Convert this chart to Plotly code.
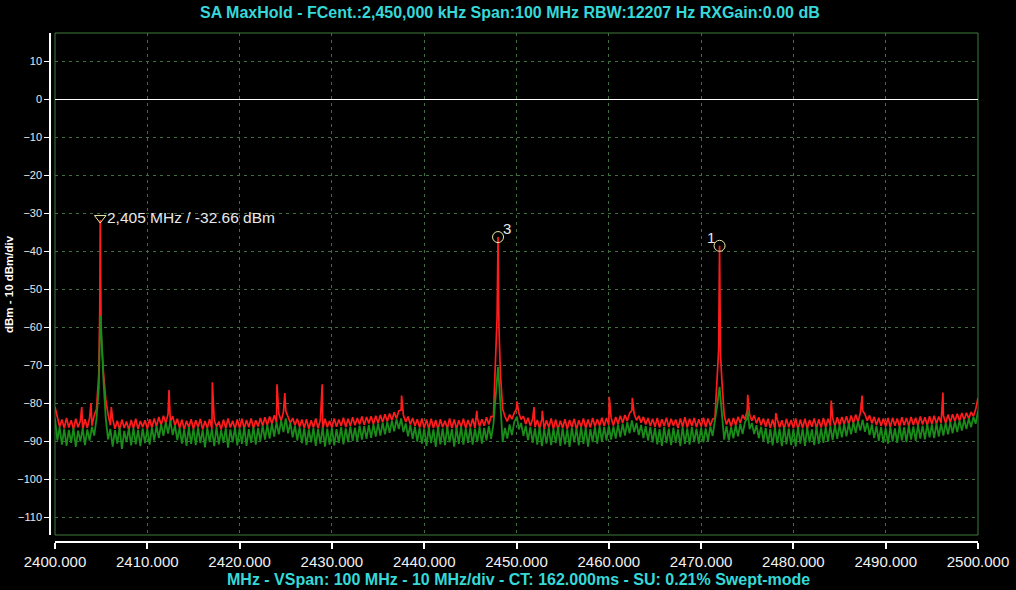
import plotly.graph_objects as go

# ---------------- data ----------------
f_start = 2400.0
f_step = 0.25   # MHz per sweep bin shown

# Max-hold (red) trace, one row per 5 MHz (20 bins each), last value = 2500 MHz
red_level = [
    -81.0, -84.0, -86.2, -84.3, -86.6, -83.9, -86.4, -84.5, -86.8, -84.1, -86.3, -84.6, -86.9, -84.2, -86.5, -83.8, -85.9, -83.2, -81.5, -72.0,
    -62.0, -72.0, -79.0, -83.0, -85.8, -84.2, -86.7, -84.6, -86.9, -84.3, -86.5, -84.8, -87.0, -84.4, -86.6, -84.1, -86.8, -84.7, -86.3, -84.5,
    -86.7, -84.2, -86.4, -84.0, -86.1, -83.6, -85.8, -83.3, -85.2, -82.8, -84.9, -83.4, -85.9, -84.1, -86.5, -84.3, -86.9, -84.6, -86.4, -84.2,
    -86.8, -84.5, -86.3, -84.1, -86.9, -84.7, -86.5, -84.2, -86.7, -84.4, -86.2, -84.8, -86.9, -84.3, -86.6, -84.0, -86.4, -84.6, -86.8, -84.3,
    -86.5, -84.1, -86.7, -84.4, -86.3, -84.0, -86.6, -84.5, -86.1, -83.9, -86.0, -83.7, -85.8, -83.5, -85.4, -83.2, -85.1, -82.8, -84.6, -82.3,
    -82.0, -83.6, -85.2, -83.9, -85.8, -84.1, -86.2, -84.3, -86.5, -84.2, -86.7, -84.5, -86.4, -84.0, -86.6, -84.4, -86.8, -84.1, -86.3, -84.6,
    -86.4, -84.0, -86.2, -84.3, -86.0, -83.8, -86.3, -84.1, -85.9, -83.7, -85.8, -83.9, -85.6, -83.5, -85.7, -83.6, -85.3, -83.4, -85.5, -83.3,
    -85.2, -83.1, -85.0, -82.9, -84.8, -82.7, -84.5, -82.4, -84.0, -82.0, -81.8, -83.2, -84.9, -83.5, -85.6, -83.9, -86.0, -84.2, -86.4, -84.0,
    -86.6, -84.3, -86.8, -84.1, -86.5, -84.4, -86.9, -84.2, -86.3, -84.6, -86.7, -84.0, -86.5, -84.3, -86.8, -84.5, -86.2, -84.1, -86.6, -84.4,
    -86.3, -84.0, -86.5, -83.8, -86.1, -84.2, -85.9, -83.7, -85.6, -83.5, -83.6, -68.0, -36.3, -72.0, -81.5, -83.5, -84.8, -83.0, -84.2, -82.6,
    -81.5, -82.6, -84.3, -83.4, -85.5, -83.8, -86.0, -84.1, -86.3, -84.4, -86.6, -84.2, -86.8, -84.5, -86.4, -84.0, -86.7, -84.3, -86.9, -84.6,
    -86.5, -84.2, -86.8, -84.4, -86.3, -84.1, -86.9, -84.5, -86.2, -84.0, -86.6, -84.3, -86.4, -83.9, -86.1, -84.2, -85.9, -83.8, -86.0, -83.9,
    -85.7, -83.8, -85.9, -83.6, -85.4, -83.3, -85.2, -83.1, -84.7, -82.6, -81.9, -82.8, -84.5, -83.3, -85.1, -83.6, -85.6, -83.9, -86.0, -84.1,
    -86.2, -83.9, -86.4, -84.2, -86.0, -83.8, -86.3, -84.1, -85.9, -84.3, -86.5, -84.0, -86.2, -83.7, -86.4, -84.1, -86.0, -83.9, -86.3, -84.2,
    -86.1, -83.8, -86.3, -84.0, -85.9, -84.2, -83.9, -72.0, -38.6, -74.0, -83.2, -85.6, -84.0, -86.1, -83.9, -85.8, -83.6, -85.2, -83.1, -84.3,
    -81.8, -82.9, -84.6, -83.2, -85.3, -83.7, -85.8, -84.0, -86.2, -84.1, -86.5, -84.3, -86.7, -84.2, -86.4, -84.5, -86.8, -84.1, -86.3, -84.4,
    -86.6, -84.0, -86.9, -84.3, -86.5, -84.1, -86.7, -84.4, -86.2, -84.0, -86.6, -84.2, -86.4, -83.9, -86.3, -84.1, -85.9, -83.8, -86.1, -83.7,
    -85.8, -83.6, -85.5, -83.4, -85.6, -83.2, -85.2, -83.0, -84.9, -82.6, -82.0, -82.9, -84.6, -83.2, -85.3, -83.6, -85.7, -83.8, -86.0, -84.0,
    -86.1, -83.9, -86.3, -83.8, -85.9, -84.0, -86.2, -83.7, -85.8, -83.9, -86.0, -83.6, -85.7, -83.8, -85.9, -83.5, -85.6, -83.7, -85.8, -83.4,
    -85.5, -83.3, -85.4, -83.5, -85.2, -83.2, -85.3, -83.0, -85.0, -82.9, -84.8, -82.8, -84.6, -82.6, -84.4, -82.5, -84.1, -82.3, -83.4, -81.6,
    -78.6,
]

# Current sweep (green) trace, same bins
green_level = [
    -84.0, -89.8, -86.3, -90.9, -86.8, -91.2, -87.0, -90.4, -86.5, -91.5, -87.2, -90.1, -86.6, -91.0, -86.9, -89.8, -86.2, -88.5, -84.0, -76.0,
    -60.0, -74.0, -84.0, -89.5, -86.8, -91.4, -87.1, -90.6, -86.4, -92.0, -87.3, -90.2, -86.7, -91.1, -86.5, -90.8, -87.0, -91.3, -86.6, -90.5,
    -86.8, -90.9, -86.4, -89.8, -86.0, -89.2, -85.5, -88.6, -85.0, -88.0, -84.6, -88.4, -85.8, -89.7, -86.5, -90.6, -86.9, -91.2, -86.3, -90.7,
    -86.7, -91.0, -86.4, -90.5, -87.0, -91.6, -86.5, -90.2, -86.8, -91.3, -86.3, -90.8, -87.1, -90.4, -86.6, -91.7, -86.9, -90.3, -86.4, -91.1,
    -86.6, -90.7, -86.3, -91.2, -86.8, -90.4, -86.2, -90.9, -86.5, -90.0, -85.9, -89.6, -85.7, -89.3, -85.4, -88.8, -85.0, -88.2, -84.5, -87.6,
    -84.0, -87.9, -85.2, -89.0, -85.9, -89.8, -86.3, -90.5, -86.6, -91.0, -86.9, -90.3, -86.5, -91.2, -86.8, -90.6, -86.4, -91.4, -86.7, -90.9,
    -86.5, -91.1, -86.8, -90.4, -86.3, -90.8, -86.6, -90.2, -86.1, -89.9, -86.4, -90.0, -85.9, -89.6, -86.0, -89.4, -85.7, -89.1, -85.5, -88.8,
    -85.3, -88.5, -85.1, -88.2, -84.9, -87.8, -84.6, -87.4, -84.2, -86.8, -84.0, -87.6, -85.3, -88.7, -85.8, -89.4, -86.2, -90.1, -86.5, -90.6,
    -86.7, -91.2, -86.4, -90.5, -86.9, -91.5, -86.3, -90.8, -86.6, -91.0, -86.2, -90.3, -86.8, -91.4, -86.5, -90.7, -86.1, -90.9, -86.6, -90.4,
    -86.4, -90.9, -86.7, -90.2, -86.2, -90.6, -86.5, -89.8, -86.0, -89.4, -85.5, -78.0, -70.5, -80.0, -90.2, -86.5, -89.3, -85.6, -88.4, -85.0,
    -83.8, -86.9, -85.2, -88.6, -85.9, -89.7, -86.3, -90.4, -86.6, -90.9, -86.2, -91.3, -86.8, -90.6, -86.4, -91.0, -86.7, -90.5, -86.3, -91.2,
    -86.6, -90.8, -86.9, -91.5, -86.4, -90.3, -86.7, -91.1, -86.2, -90.7, -86.5, -91.4, -86.8, -90.2, -86.3, -90.6, -86.0, -90.1, -86.2, -89.8,
    -85.9, -89.6, -86.1, -89.3, -85.6, -88.9, -85.4, -88.5, -85.0, -87.9, -84.5, -87.6, -85.2, -88.4, -85.7, -89.2, -86.0, -89.8, -86.3, -90.3,
    -86.5, -90.8, -86.8, -91.2, -86.3, -90.5, -86.7, -91.0, -86.4, -90.4, -86.9, -91.3, -86.2, -90.7, -86.6, -90.9, -86.3, -90.2, -86.7, -90.6,
    -86.4, -90.3, -86.6, -89.9, -86.1, -88.6, -84.8, -80.5, -75.7, -82.0, -89.6, -86.0, -89.8, -86.3, -89.2, -85.8, -88.7, -85.4, -88.1, -85.0,
    -83.9, -86.8, -85.2, -88.1, -85.8, -89.2, -86.2, -90.0, -86.5, -90.6, -86.8, -91.1, -86.4, -90.5, -86.7, -91.3, -86.3, -90.8, -86.6, -91.0,
    -86.8, -91.4, -86.3, -90.6, -86.7, -91.2, -86.4, -90.3, -86.9, -91.0, -86.2, -90.7, -86.6, -90.4, -86.3, -90.1, -86.0, -89.7, -85.8, -89.4,
    -85.7, -89.0, -85.5, -88.7, -85.3, -88.2, -85.0, -87.8, -84.7, -87.2, -84.3, -87.5, -85.1, -88.4, -85.6, -89.2, -86.0, -89.9, -86.3, -90.4,
    -86.5, -90.6, -86.2, -90.1, -86.6, -90.4, -86.0, -89.8, -86.3, -90.2, -85.9, -89.6, -86.1, -89.9, -85.7, -89.3, -85.9, -89.5, -85.5, -89.0,
    -85.6, -89.2, -85.3, -88.8, -85.4, -88.5, -85.1, -88.2, -85.0, -87.9, -84.8, -87.6, -84.5, -87.2, -84.3, -86.8, -84.0, -86.3, -83.6, -85.4,
    -82.0,
]

# Narrow spurs / peak tops between bins (MHz, dBm)
red_spur_freq = [2402.9, 2403.9, 2404.85, 2404.9, 2404.95, 2406.1, 2412.35, 2417.05, 2424.05, 2424.9, 2428.95,
                 2437.55, 2445.7, 2447.9, 2448.1, 2450.05, 2451.9, 2452.8, 2460.05, 2462.55, 2471.9, 2472.1,
                 2475.05, 2478.1, 2484.1, 2487.45, 2496.2]
red_spur_level = [-81.0, -80.0, -55.0, -31.8, -50.0, -81.0, -76.5, -74.5, -75.0, -77.3, -75.0,
                  -78.0, -82.0, -57.0, -60.0, -79.5, -81.0, -82.0, -78.3, -78.6, -66.0, -67.0,
                  -77.8, -82.6, -79.3, -78.0, -77.2]
green_spur_freq = [2404.9, 2450.05, 2475.05]
green_spur_level = [-57.0, -83.5, -82.0]

# Markers
marker_freq = [2404.9, 2448.0, 2472.0]
marker_level = [-31.3, -36.3, -38.6]
marker_names = ["2,405 MHz / -32.66 dBm", "3", "1"]

x_ticks = [2400, 2410, 2420, 2430, 2440, 2450, 2460, 2470, 2480, 2490, 2500]

title_text = "SA MaxHold - FCent.:2,450,000 kHz Span:100 MHz RBW:12207 Hz RXGain:0.00 dB"
xlabel_text = "MHz - VSpan: 100 MHz - 10 MHz/div - CT: 162.000ms - SU: 0.21% Swept-mode"
ylabel_text = "dBm - 10 dBm/div"

# ---------------- build ----------------
freq = [f_start + f_step * i for i in range(len(red_level))]


def merge(levels, sf, sv):
    pts = sorted(list(zip(freq, levels)) + list(zip(sf, sv)))
    return [p[0] for p in pts], [p[1] for p in pts]


rx, ry = merge(red_level, red_spur_freq, red_spur_level)
gx, gy = merge(green_level, green_spur_freq, green_spur_level)

W, H = 1016, 590
CYAN = "#36d8d8"
GRID = "#3f6e3f"
MK = "#eee8a8"
FONT = "Liberation Sans, Arial, sans-serif"

fig = go.Figure()
fig.add_trace(go.Scatter(x=rx, y=ry, mode="lines", line=dict(color="#ff1c1c", width=1.7),
                         hoverinfo="skip", showlegend=False))
fig.add_trace(go.Scatter(x=gx, y=gy, mode="lines", line=dict(color="#1a8c1a", width=1.8),
                         hoverinfo="skip", showlegend=False))
fig.add_trace(go.Scatter(x=marker_freq[:1], y=marker_level[:1], mode="markers",
                         marker=dict(symbol="triangle-down-open", size=10, color=MK, line=dict(width=1, color=MK)),
                         showlegend=False, hoverinfo="skip"))
fig.add_trace(go.Scatter(x=marker_freq[1:], y=marker_level[1:], mode="markers",
                         marker=dict(symbol="circle-open", size=11, color=MK, line=dict(width=1, color=MK)),
                         showlegend=False, hoverinfo="skip"))

fig.add_annotation(x=marker_freq[0], y=marker_level[0], text=marker_names[0], showarrow=False,
                   xanchor="left", yanchor="middle", xshift=5, yshift=1,
                   font=dict(family=FONT, size=15.5, color="#e8e8e8"))
fig.add_annotation(x=marker_freq[1], y=marker_level[1], text=marker_names[1], showarrow=False,
                   xanchor="center", yanchor="middle", xshift=9, yshift=9,
                   font=dict(family=FONT, size=15, color="#e8e8e8"))
fig.add_annotation(x=marker_freq[2], y=marker_level[2], text=marker_names[2], showarrow=False,
                   xanchor="center", yanchor="middle", xshift=-9, yshift=8,
                   font=dict(family=FONT, size=15, color="#e8e8e8"))

# titles
fig.add_annotation(xref="paper", yref="paper", x=510 / W, y=1 - 12 / H, text=title_text, showarrow=False,
                   xanchor="center", yanchor="middle",
                   font=dict(family=FONT, size=16, color=CYAN, weight="bold"))
fig.add_annotation(xref="paper", yref="paper", x=518 / W, y=1 - 579 / H, text=xlabel_text, showarrow=False,
                   xanchor="center", yanchor="middle",
                   font=dict(family=FONT, size=16, color=CYAN, weight="bold"))
fig.add_annotation(xref="paper", yref="paper", x=9 / W, y=1 - 284 / H, text=ylabel_text, showarrow=False,
                   textangle=-90, xanchor="center", yanchor="middle",
                   font=dict(family=FONT, size=11.5, color="#ffffff", weight="bold"))

# plot frame
fig.add_shape(type="rect", xref="x domain", yref="y domain", x0=0, x1=1, y0=0, y1=1,
              line=dict(color="#3c7c3c", width=1), layer="below")

fig.update_layout(
    template="none",
    width=W, height=H, autosize=False,
    margin=dict(l=0, r=0, t=0, b=0, pad=0),
    paper_bgcolor="#000000", plot_bgcolor="#000000",
    xaxis=dict(domain=[55 / W, 978 / W], range=[2400, 2500], anchor="free", position=1 - 542 / H,
               automargin=False, tickvals=x_ticks, tickformat=".3f",
               showline=True, linecolor="#ffffff", linewidth=1.5,
               ticks="outside", ticklen=6, tickcolor="#ffffff", tickwidth=1.5,
               showgrid=True, gridcolor=GRID, gridwidth=1, griddash="3px,4px",
               zeroline=False, fixedrange=True,
               tickfont=dict(family=FONT, size=15, color="#f0f0f0")),
    yaxis=dict(domain=[1 - 535 / H, 1 - 33 / H], range=[-114.66, 17.37], anchor="free", position=50 / W,
               automargin=False, tick0=0, dtick=10,
               showline=True, linecolor="#ffffff", linewidth=1.5,
               ticks="outside", ticklen=5, tickcolor="#ffffff", tickwidth=1,
               showgrid=True, gridcolor=GRID, gridwidth=1, griddash="3px,4px",
               zeroline=True, zerolinecolor="#ffffff", zerolinewidth=1.2, fixedrange=True,
               tickfont=dict(family=FONT, size=11, color="#e8e8e8")),
)

fig.write_html("out.html", config={"displayModeBar": False},
               post_script="document.body.style.margin='0px';document.body.style.background='#000';")
